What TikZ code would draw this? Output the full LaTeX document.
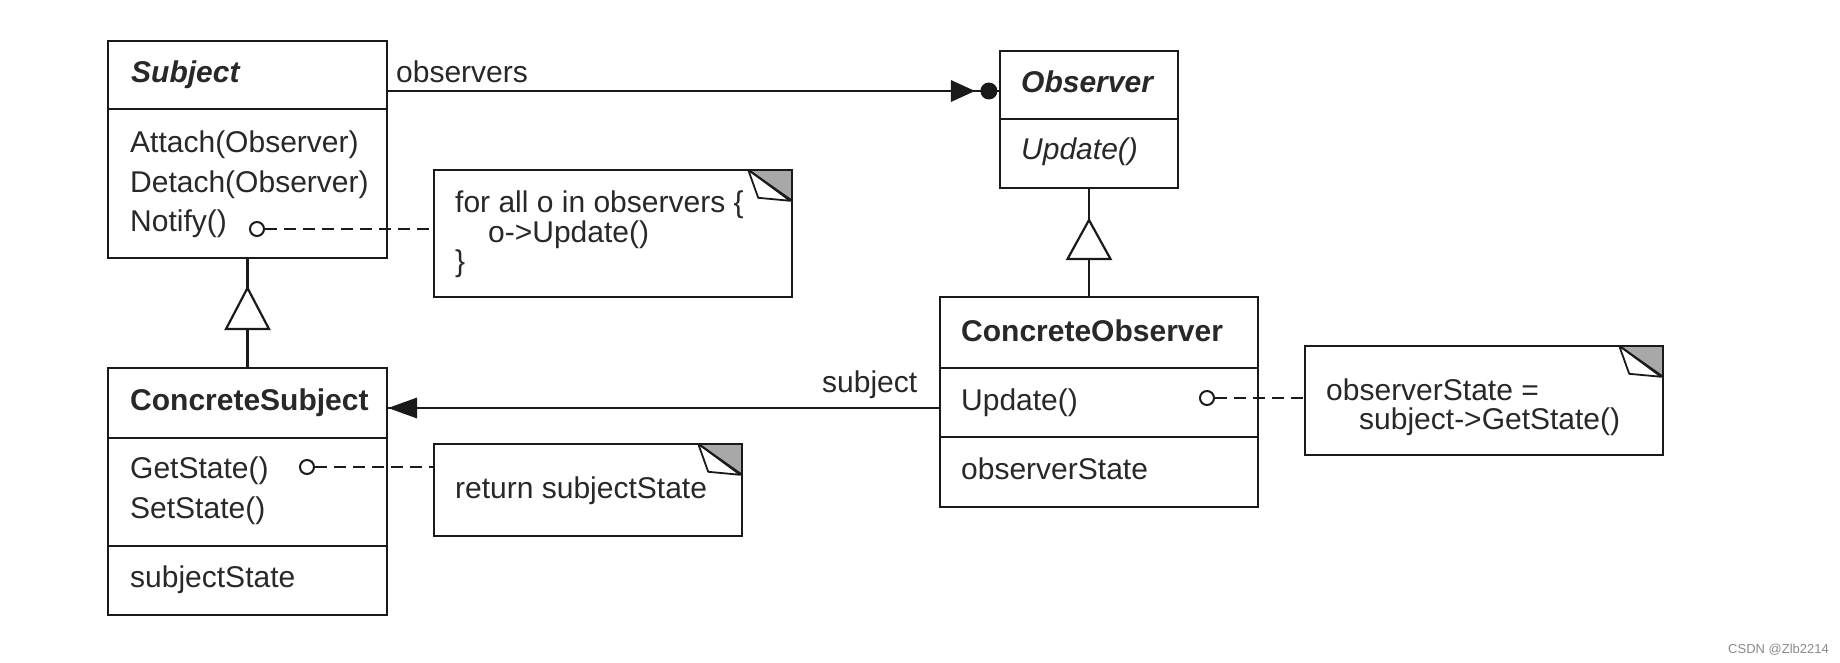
\documentclass[tikz,border=0pt]{standalone}
\usepackage{fontspec}
\setmainfont{Liberation Sans}
\usetikzlibrary{calc}
\definecolor{lineC}{HTML}{1A1A1A}
\definecolor{textC}{HTML}{282828}
\definecolor{earGray}{HTML}{A8A8A8}
\definecolor{markC}{HTML}{8A8A8A}
\tikzset{
  box/.style={draw=lineC, line width=2.2pt, inner sep=0pt, fill=white},
  notebox/.style={draw=none, inner sep=0pt, fill=white},
  txt/.style={anchor=base west, inner sep=0pt, font=\fontsize{30}{34}\selectfont, text=textC},
  link/.style={draw=lineC, line width=2.2pt},
  dashlink/.style={draw=lineC, line width=2.2pt, dash pattern=on 12pt off 7pt},
  knob/.style={circle, draw=lineC, line width=2pt, fill=white, minimum size=14pt, inner sep=0pt},
  genhead/.style={draw=lineC, line width=2.2pt, fill=white, line join=miter},
}
\newcommand{\dogear}[1]{%
  \fill[earGray] ($(#1.north east)+(-44,0)$) -- (#1.north east) -- ($(#1.north east)+(0,31)$) -- cycle;
  \draw[draw=lineC, line width=1.8pt, fill=white, line join=round]
     ($(#1.north east)+(-44,0)$) -- ($(#1.north east)+(-34,28)$) -- ($(#1.north east)+(-2,31)$) -- cycle;
  \draw[draw=lineC, line width=1.8pt] ($(#1.north east)+(-44,0)$) -- ($(#1.north east)+(0,31)$);
  \draw[link] (#1.north west) rectangle (#1.south east);
}
\begin{document}
\begin{tikzpicture}[x=1pt, y=-1pt]
\useasboundingbox[fill=white] (0,0) rectangle (1840,663);

% ---------- class boxes ----------
\node[box, minimum width=279pt, minimum height=217pt] (subj) at (247.5,149.5) {};
\draw[link] (108,109) -- (387,109);
\node[txt, font=\fontsize{30}{34}\selectfont\bfseries\itshape] (subjT) at (131,83) {Subject};
\node[txt] (subjO1) at (130,153) {Attach(Observer)};
\node[txt] (subjO2) at (130,193) {Detach(Observer)};
\node[txt] (subjO3) at (130,232) {Notify()};

\node[box, minimum width=178pt, minimum height=137pt] (obs) at (1089,119.5) {};
\draw[link] (1000,119) -- (1178,119);
\node[txt, font=\fontsize{30}{34}\selectfont\bfseries\itshape] (obsT) at (1021,93) {Observer};
\node[txt, font=\fontsize{30}{34}\selectfont\itshape] (obsO1) at (1021,160) {Update()};

\node[box, minimum width=279pt, minimum height=247pt] (csub) at (247.5,491.5) {};
\draw[link] (108,438) -- (387,438);
\draw[link] (108,546) -- (387,546);
\node[txt, font=\fontsize{30}{34}\selectfont\bfseries] (csubT) at (130,410) {ConcreteSubject};
\node[txt] (csubO1) at (130,478) {GetState()};
\node[txt] (csubO2) at (130,518) {SetState()};
\node[txt] (csubA1) at (130,587) {subjectState};

\node[box, minimum width=318pt, minimum height=210pt] (cobs) at (1099,402) {};
\draw[link] (940,368) -- (1258,368);
\draw[link] (940,437) -- (1258,437);
\node[txt, font=\fontsize{30}{34}\selectfont\bfseries] (cobsT) at (961,341) {ConcreteObserver};
\node[txt] (cobsO1) at (961,410) {Update()};
\node[txt] (cobsA1) at (961,479) {observerState};

% ---------- notes ----------
\node[notebox, minimum width=358pt, minimum height=127pt] (note1) at (613,233.5) {};
\dogear{note1}
\node[txt] (n1a) at (455,213) {for all o in observers \{};
\node[txt] (n1b) at (488,243) {o->Update()};
\node[txt] (n1c) at (455,272) {\}};

\node[notebox, minimum width=308pt, minimum height=92pt] (note2) at (588,490) {};
\dogear{note2}
\node[txt] (n2a) at (455,498) {return subjectState};

\node[notebox, minimum width=358pt, minimum height=109pt] (note3) at (1484,400.5) {};
\dogear{note3}
\node[txt] (n3a) at (1326,400) {observerState =};
\node[txt] (n3b) at (1359,429) {subject->GetState()};

% ---------- generalizations ----------
\coordinate (g1a) at (247.5,288);
\coordinate (g1b) at (247.5,329);
\draw[link] (subj.south) -- (g1a);
\draw[link] (g1b) -- (csub.north);
\draw[genhead] (g1a) -- ($(g1b)+(-21.5,0)$) -- ($(g1b)+(21.5,0)$) -- cycle;

\coordinate (g2a) at (1089,220);
\coordinate (g2b) at (1089,259);
\draw[link] (obs.south) -- (g2a);
\draw[link] (g2b) -- (g2b |- cobs.north);
\draw[genhead] (g2a) -- ($(g2b)+(-21.5,0)$) -- ($(g2b)+(21.5,0)$) -- cycle;

% ---------- associations ----------
\coordinate (obsFrom) at (subj.east |- 0,91);
\coordinate (obsTo) at (obs.west |- 0,91);
\draw[link] (obsFrom) -- (obsTo);
\fill[lineC] ($(obsTo)+(-48,-11)$) -- ($(obsTo)+(-24,0)$) -- ($(obsTo)+(-48,11)$) -- cycle;
\fill[lineC] ($(obsTo)+(-10,0)$) circle[radius=8.5pt];
\node[txt] (obsLbl) at (396,83) {observers};

\coordinate (subFrom) at (cobs.west |- 0,408);
\coordinate (subTo) at (csub.east |- 0,408);
\draw[link] (subFrom) -- (subTo);
\fill[lineC] (subTo) -- ($(subTo)+(29,-10.5)$) -- ($(subTo)+(29,10.5)$) -- cycle;
\node[txt] (subLbl) at (822,392) {subject};

% ---------- note links ----------
\node[knob] (k1) at (257,229) {};
\draw[dashlink] (k1.east) -- (k1.east -| note1.west);
\node[knob] (k2) at (307,467) {};
\draw[dashlink] (k2.east) -- (k2.east -| note2.west);
\node[knob] (k3) at (1207,398) {};
\draw[dashlink] (k3.east) -- (k3.east -| note3.west);

% ---------- watermark ----------
\node[anchor=base west, inner sep=0pt, font=\fontsize{13}{15}\selectfont, text=markC] (wm) at (1728,653) {CSDN @Zlb2214};
\end{tikzpicture}
\end{document}
